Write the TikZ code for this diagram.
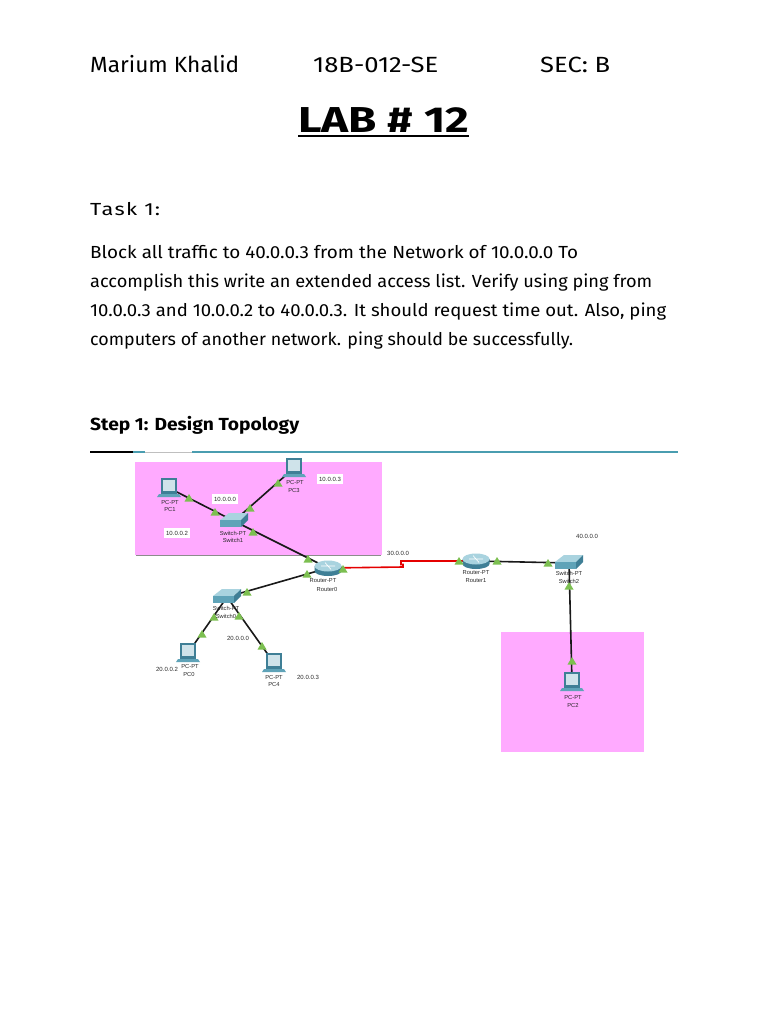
\documentclass[tikz,border=0pt]{standalone}
\usepackage{fontspec}
\usepackage{graphicx}
\setmainfont{Fira Sans}
\newfontfamily\lbl{Liberation Sans}
\usetikzlibrary{calc}
\definecolor{pinkzone}{HTML}{FFAAFF}
\definecolor{tealline}{HTML}{4A9DB0}
\definecolor{devdark}{HTML}{3F7F96}
\definecolor{devmid}{HTML}{5FA3B8}
\definecolor{devlight}{HTML}{A9D3DF}
\definecolor{screen}{HTML}{CFE3EA}
\definecolor{linkgreen}{HTML}{7CBF50}
\definecolor{lbltext}{HTML}{2A2A2A}
\newcommand{\fitw}[2]{\resizebox{#1pt}{\height}{#2}}
\tikzset{
  x=1pt,y=-1pt,
  doc/.style={anchor=west,inner sep=0pt,font=\fontsize{17.5}{20}\selectfont,text=black},
  head/.style={anchor=west,inner sep=0pt,font=\fontsize{22}{26}\selectfont,text=black},
  hub/.style={inner sep=0pt,minimum size=0pt},
  link/.style={draw=black!90,line width=1.6pt},
  serial/.style={draw=red!90!black,line width=1.6pt},
  tag/.style={inner xsep=2pt,inner ysep=2.5pt,fill=white,font=\lbl\fontsize{6}{7}\selectfont,text=lbltext},
  dev/.style={inner sep=0pt,font=\lbl\fontsize{5.8}{7}\selectfont,text=lbltext},
}
\newcommand{\lk}[2]{\fill[linkgreen] (#1-4.5,#2+3.5) -- (#1+4.5,#2+3.5) -- (#1,#2-4) -- cycle;}
\newcommand{\pcicon}[2]{%
  \begin{scope}[shift={(#1,#2)}]
    \fill[devdark] (-8,-10) rectangle (8,6);
    \fill[screen] (-6,-8) rectangle (5.5,3);
    \fill[devmid] (-10,6) -- (10,6) -- (12,9) -- (-12,9) -- cycle;
  \end{scope}}
\newcommand{\swicon}[2]{%
  \begin{scope}[shift={(#1,#2)}]
    \fill[devlight] (-14,-1) -- (-5,-8) -- (14,-8) -- (7,-1) -- cycle;
    \fill[devmid] (-14,-1) rectangle (7,6);
    \fill[devdark] (7,-1) -- (14,-8) -- (14,-1) -- (7,6) -- cycle;
  \end{scope}}
\newcommand{\roicon}[2]{%
  \begin{scope}[shift={(#1,#2)}]
    \fill[devdark] (-13.5,-2) -- (-13.5,3) arc[start angle=180,end angle=0,x radius=13.5,y radius=5] -- (13.5,-2) -- cycle;
    \fill[devlight] (0,-2) ellipse[x radius=13.5,y radius=5.5];
    \draw[white,line width=0.6pt] (-7,-2) -- (7,-2) (-3,-5.5) -- (3,1.5);
  \end{scope}}
\begin{document}
\begin{tikzpicture}
\useasboundingbox (0,0) rectangle (768,1024);
\fill[white] (0,0) rectangle (768,1024);
% header
\node[head] (hname) at (90,64.5) {\fitw{149}{Marium Khalid}};
\node[head] (hid) at (313,64.5) {\fitw{125}{18B-012-SE}};
\node[head] (hsec) at (540,64.5) {\fitw{70}{SEC: B}};
\node[anchor=center,inner sep=0pt,font=\bfseries\fontsize{36}{40}\selectfont] (title) at (383.5,120) {\fitw{171}{LAB \# 12}};
\fill[black] (298,135.5) rectangle (469,137.5);
% body
\node[doc] (task) at (90,209.5) {\fitw{70}{\addfontfeature{LetterSpace=6}Task 1:}};
\node[doc] (l1) at (90,252.5) {\fitw{488}{Block all traffic to 40.0.0.3 from the Network of 10.0.0.0 To}};
\node[doc] (l2) at (90,282.5) {\fitw{562}{accomplish this write an extended access list. Verify using ping from}};
\node[doc] (l3) at (90,311.5) {\fitw{576}{10.0.0.3 and 10.0.0.2 to 40.0.0.3. It should request time out. Also, ping}};
\node[doc] (l4) at (90,340.5) {\fitw{483}{computers of another network. ping should be successfully.}};
\node[doc,font=\bfseries\fontsize{17.5}{20}\selectfont] (step) at (90,425) {\fitw{209}{Step 1: Design Topology}};
% rule
\fill[black] (90,451.3) rectangle (133,453);
\fill[tealline] (133,451.3) rectangle (145,453);
\fill[black!25] (145,451.8) rectangle (192,452.6);
\fill[tealline] (192,451.3) rectangle (678,453);
% zones
\fill[black!45] (136,553) rectangle (381,556);
\fill[pinkzone] (135,462) rectangle (382,555);
\fill[pinkzone] (501,632) rectangle (644,752);
% anchors
\node[hub] (pc1) at (169,488) {};
\node[hub] (pc3) at (294,468) {};
\node[hub] (sw1) at (234,521) {};
\node[hub] (r0) at (328,568) {};
\node[hub] (sw0) at (227,597) {};
\node[hub] (pc0) at (188,653) {};
\node[hub] (pc4) at (274,663) {};
\node[hub] (r1) at (476,561) {};
\node[hub] (sw2) at (569,563) {};
\node[hub] (pc2) at (572,682) {};
\coordinate (ja) at (403,567);
\coordinate (jb) at (403,564.5);
\coordinate (jc) at (401,564.5);
\coordinate (jd) at (401,561);
% links
\draw[link] (pc1) -- (sw1);
\draw[link] (pc3) -- (sw1);
\draw[link] (sw1) -- (r0);
\draw[link] (r0) -- (sw0);
\draw[link] (sw0) -- (pc0);
\draw[link] (sw0) -- (pc4);
\draw[link] (r1) -- (sw2);
\draw[link] (sw2) -- (pc2);
\draw[serial] (r0) -- (ja) -- (jb) -- (jc) -- (jd) -- (r1);
% icons
\pcicon{169}{488}\pcicon{294}{468}\pcicon{188}{653}\pcicon{274}{663}\pcicon{572}{682}
\swicon{234}{521}\swicon{227}{597}\swicon{569}{563}
\roicon{328}{568}\roicon{476}{561}
% link lights
\lk{189}{498}\lk{215}{512}\lk{250}{508}\lk{278}{483}\lk{253}{532}\lk{308}{559}\lk{307}{574}\lk{343}{569}
\lk{247}{592}\lk{214}{617}\lk{239}{616}\lk{202}{634}\lk{262}{646}
\lk{459}{561}\lk{497}{561}\lk{548}{563}\lk{569}{586}\lk{572}{661}
% device labels
\node[dev] (t1a) at (170,502) {PC-PT};
\node[dev] (t1b) at (170,509) {PC1};
\node[dev] (t3a) at (295,482) {PC-PT};
\node[dev] (t3b) at (294,490) {PC3};
\node[dev] (s1a) at (233,533) {Switch-PT};
\node[dev] (s1b) at (233,540) {Switch1};
\node[dev] (r0a) at (323,581) {Router-PT};
\node[dev] (r0b) at (327,589) {Router0};
\node[dev] (s0a) at (226,608) {Switch-PT};
\node[dev] (s0b) at (226,616) {Switch0};
\node[dev] (t0a) at (190,666) {PC-PT};
\node[dev] (t0b) at (189,674) {PC0};
\node[dev] (t4a) at (274,677) {PC-PT};
\node[dev] (t4b) at (274,684) {PC4};
\node[dev] (r1a) at (476,573) {Router-PT};
\node[dev] (r1b) at (476,581) {Router1};
\node[dev] (s2a) at (569,573) {Switch-PT};
\node[dev] (s2b) at (569,581) {Switch2};
\node[dev] (t2a) at (573,697) {PC-PT};
\node[dev] (t2b) at (573,705) {PC2};
% address tags
\node[tag] (a1) at (330,479) {10.0.0.3};
\node[tag] (a2) at (225,499) {10.0.0.0};
\node[tag] (a3) at (177,533) {10.0.0.2};
\node[tag] (a4) at (167,669) {20.0.0.2};
\node[tag] (a5) at (238,638) {20.0.0.0};
\node[tag] (a6) at (308,677) {20.0.0.3};
\node[tag] (a7) at (398,553) {30.0.0.0};
\node[tag] (a8) at (587,536) {40.0.0.0};
\end{tikzpicture}
\end{document}
